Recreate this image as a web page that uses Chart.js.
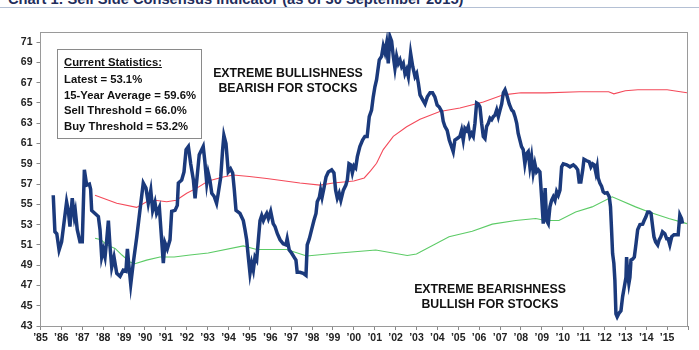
<!DOCTYPE html>
<html>
<head>
<meta charset="utf-8">
<script src="https://cdn.jsdelivr.net/npm/chart.js@4"></script>
<style>
  body { margin: 0; background: #fff; width: 699px; height: 350px; overflow: hidden; position: relative; font-family: "Liberation Sans", Arial, sans-serif; }
  #chart { position: absolute; left: 0; top: 0; }
  .title { position: absolute; left: 8px; top: -8px; font-size: 14.7px; line-height: 14.7px; font-weight: bold; color: #1f2d5c; white-space: nowrap; }
  .rule { position: absolute; left: 0; top: 7px; width: 699px; height: 1px; background: #b4c0d4; }
  .stats { position: absolute; left: 57px; top: 49px; width: 143px; height: 88px; border: 1px solid #8a8a8a; background: #fff; font-size: 11.3px; font-weight: bold; color: #111; }
  .stats div { position: absolute; left: 6px; white-space: nowrap; }
  .note { position: absolute; font-size: 12.3px; font-weight: bold; color: #111; text-align: center; line-height: 15px; white-space: nowrap; }
</style>
</head>
<body>
<div class="title">Chart 1: Sell Side Consensus Indicator (as of 30 September 2015)</div>
<div class="rule"></div>
<canvas id="chart" width="699" height="350"></canvas>
<div class="stats">
  <div style="top:6px;text-decoration:underline">Current Statistics:</div>
  <div style="top:23px">Latest = 53.1%</div>
  <div style="top:39px">15-Year Average = 59.6%</div>
  <div style="top:54px">Sell Threshold = 66.0%</div>
  <div style="top:70px">Buy Threshold = 53.2%</div>
</div>
<div class="note" style="left:208px;top:66px;width:160px">EXTREME BULLISHNESS<br>BEARISH FOR STOCKS</div>
<div class="note" style="left:410px;top:282px;width:160px">EXTREME BEARISHNESS<br>BULLISH FOR STOCKS</div>
<script>
// Sell side consensus indicator, [year, %]
const sellSide = [
  [1985.61,55.9],[1985.69,52.3],[1985.78,52.1],[1985.89,50.5],[1986.01,51.3],[1986.25,55.25],[1986.33,54.4],[1986.41,52.8],
  [1986.52,55.6],[1986.62,53.8],[1986.67,54.3],[1986.76,52.5],[1986.89,51.3],[1987.0,51.3],[1987.10,58.4],[1987.21,56.9],
  [1987.34,57.0],[1987.40,56.5],[1987.45,54.4],[1987.61,54.1],[1987.77,53.8],[1987.85,52.5],[1987.93,49.8],[1988.01,50.5],
  [1988.09,49.8],[1988.17,51.5],[1988.25,53.4],[1988.33,50.8],[1988.41,48.8],[1988.52,49.8],[1988.65,48.2],[1988.81,47.9],
  [1988.96,48.5],[1989.09,48.4],[1989.16,50.6],[1989.22,49.2],[1989.32,47.1],[1989.44,49.2],[1989.61,51.8],[1989.76,54.4],
  [1989.92,57.1],[1990.05,56.6],[1990.16,55.1],[1990.28,56.4],[1990.37,54.4],[1990.48,55.2],[1990.56,54.1],[1990.69,54.7],
  [1990.80,51.5],[1990.88,49.2],[1990.96,51.2],[1991.07,50.6],[1991.20,51.5],[1991.28,54.3],[1991.44,54.4],[1991.55,54.9],
  [1991.60,57.1],[1991.76,57.4],[1991.87,58.2],[1991.97,60.4],[1992.08,60.7],[1992.19,59.0],[1992.32,57.4],[1992.40,55.6],
  [1992.60,59.9],[1992.79,60.7],[1992.87,59.2],[1992.96,57.1],[1993.03,58.1],[1993.11,57.4],[1993.20,56.1],[1993.31,55.8],
  [1993.43,55.1],[1993.51,56.1],[1993.63,57.7],[1993.72,60.4],[1993.78,61.8],[1993.88,61.0],[1993.99,58.2],[1994.10,58.5],
  [1994.20,58.1],[1994.28,56.4],[1994.36,54.4],[1994.55,54.1],[1994.71,53.4],[1994.79,52.5],[1994.87,51.5],[1994.95,49.8],
  [1995.03,48.2],[1995.11,49.2],[1995.19,48.5],[1995.27,49.8],[1995.35,49.5],[1995.43,51.5],[1995.51,53.4],[1995.59,53.9],
  [1995.67,53.4],[1995.75,53.8],[1995.83,54.1],[1995.91,53.6],[1996.02,54.3],[1996.14,53.1],[1996.23,52.8],[1996.34,52.1],
  [1996.47,51.5],[1996.62,51.1],[1996.75,51.0],[1996.81,51.6],[1996.91,50.5],[1997.02,50.2],[1997.14,49.8],[1997.23,49.5],
  [1997.29,48.3],[1997.42,48.3],[1997.58,48.2],[1997.71,48.0],[1997.77,51.0],[1997.87,51.6],[1997.98,52.5],[1998.09,53.4],
  [1998.19,54.1],[1998.25,55.25],[1998.35,55.7],[1998.41,56.4],[1998.48,55.7],[1998.57,56.6],[1998.67,57.7],[1998.78,58.2],
  [1998.94,58.4],[1999.05,58.1],[1999.13,56.4],[1999.21,55.6],[1999.30,56.1],[1999.38,55.4],[1999.50,56.4],[1999.62,56.9],
  [1999.69,57.4],[1999.77,59.0],[1999.85,58.9],[1999.93,58.1],[2000.01,58.8],[2000.09,58.6],[2000.17,59.7],[2000.29,60.7],
  [2000.42,61.35],[2000.53,61.7],[2000.64,61.7],[2000.74,63.65],[2000.85,64.3],[2000.93,65.6],[2001.01,66.6],[2001.09,67.3],
  [2001.22,69.25],[2001.33,69.6],[2001.41,70.6],[2001.49,70.0],[2001.57,70.9],[2001.65,68.9],[2001.73,71.55],[2001.81,71.1],
  [2001.89,69.6],[2001.97,68.4],[2002.05,69.6],[2002.13,68.9],[2002.21,69.25],[2002.29,68.6],[2002.37,68.9],[2002.45,67.9],
  [2002.53,68.3],[2002.61,67.6],[2002.72,69.9],[2002.82,68.6],[2002.93,67.6],[2003.01,67.9],[2003.09,66.95],[2003.17,65.8],
  [2003.30,65.3],[2003.41,64.9],[2003.52,65.6],[2003.65,66.0],[2003.77,66.0],[2003.88,65.6],[2003.99,64.8],[2004.09,64.6],
  [2004.21,64.15],[2004.28,63.2],[2004.36,62.7],[2004.47,62.3],[2004.57,61.35],[2004.68,60.7],[2004.76,60.2],[2004.84,61.35],
  [2004.95,61.5],[2005.08,61.7],[2005.16,62.3],[2005.24,61.35],[2005.32,62.5],[2005.40,62.3],[2005.48,62.7],[2005.56,61.7],
  [2005.64,62.0],[2005.72,61.7],[2005.80,63.0],[2005.88,65.0],[2005.96,64.9],[2006.04,64.6],[2006.12,63.0],[2006.20,61.7],
  [2006.28,61.5],[2006.36,62.7],[2006.44,63.0],[2006.52,63.5],[2006.60,63.35],[2006.68,63.65],[2006.76,63.8],[2006.84,64.3],
  [2006.92,63.65],[2007.00,64.3],[2007.08,64.9],[2007.16,66.0],[2007.24,66.3],[2007.32,65.8],[2007.44,64.9],[2007.56,64.3],
  [2007.64,64.15],[2007.72,63.65],[2007.80,63.0],[2007.87,62.0],[2008.03,60.7],[2008.11,60.4],[2008.19,59.0],[2008.27,60.0],
  [2008.35,60.2],[2008.43,58.7],[2008.51,59.7],[2008.59,58.1],[2008.67,59.0],[2008.75,58.2],[2008.83,58.4],[2008.91,58.2],
  [2008.99,55.75],[2009.07,53.1],[2009.12,55.0],[2009.16,56.6],[2009.23,53.4],[2009.31,53.1],[2009.39,54.75],[2009.47,55.4],
  [2009.55,55.75],[2009.63,55.4],[2009.71,56.25],[2009.79,55.9],[2009.87,56.4],[2009.95,58.7],[2010.03,59.0],[2010.19,58.9],
  [2010.35,58.7],[2010.51,58.9],[2010.62,58.7],[2010.72,58.4],[2010.79,57.2],[2010.87,57.2],[2010.96,58.4],[2011.02,59.45],
  [2011.15,59.3],[2011.27,59.2],[2011.35,58.7],[2011.43,59.0],[2011.51,58.9],[2011.59,58.1],[2011.65,58.7],[2011.70,57.6],
  [2011.78,57.1],[2011.86,56.8],[2011.94,56.25],[2012.02,56.1],[2012.13,56.15],[2012.23,55.75],[2012.29,54.75],[2012.34,52.5],
  [2012.39,50.15],[2012.45,49.2],[2012.50,47.5],[2012.55,44.2],[2012.61,43.9],[2012.71,44.3],[2012.79,44.5],[2012.87,45.9],
  [2012.95,46.85],[2013.03,47.8],[2013.06,49.8],[2013.11,48.2],[2013.17,47.2],[2013.22,47.8],[2013.27,49.5],[2013.35,49.6],
  [2013.43,49.8],[2013.51,51.1],[2013.59,52.5],[2013.70,53.0],[2013.83,53.05],[2013.90,53.4],[2013.98,53.75],[2014.07,54.25],
  [2014.15,54.25],[2014.23,54.1],[2014.31,52.75],[2014.37,51.8],[2014.45,51.3],[2014.55,51.0],[2014.62,51.5],[2014.70,51.8],
  [2014.78,52.3],[2014.89,52.1],[2014.98,51.6],[2015.05,51.6],[2015.13,51.0],[2015.22,51.8],[2015.33,52.0],[2015.46,52.0],
  [2015.53,52.0],[2015.61,53.95],[2015.69,53.6],[2015.74,53.1]
];

// sell threshold line (red)
const sellThreshold = [
  [1987.61,55.9],[1988.65,55.1],[1989.6,54.7],[1990.08,55.25],[1990.48,55.4],[1991.04,55.25],[1991.5,55.4],[1992.0,56.1],
  [1992.48,56.6],[1993.03,57.3],[1993.75,57.7],[1994.23,57.9],[1995.0,57.75],[1995.83,57.55],[1997.42,57.1],[1998.38,56.9],
  [1999.02,57.1],[2000.0,57.3],[2000.5,57.6],[2000.8,58.3],[2001.09,59.05],[2001.41,60.4],[2001.89,61.7],[2002.53,62.65],
  [2003.17,63.4],[2004.12,64.15],[2005.08,64.5],[2006.2,65.1],[2007.16,65.8],[2008.0,66.0],[2009.2,66.0],[2010.8,66.1],
  [2012.2,66.1],[2012.45,65.9],[2013.0,66.2],[2013.6,66.3],[2015.0,66.3],[2015.95,66.0]
];

// buy threshold line (green)
const buyThreshold = [
  [1987.61,51.65],[1987.9,51.5],[1988.17,51.0],[1988.57,50.65],[1988.9,50.0],[1989.28,49.3],[1989.52,49.15],[1990.08,49.5],
  [1990.72,49.8],[1991.4,49.8],[1992.16,50.0],[1993.03,50.2],[1994.71,50.9],[1995.35,50.55],[1996.79,50.55],[1997.74,49.9],
  [1999.02,50.15],[2000.77,50.45],[2001.05,50.5],[2002.56,49.95],[2003.0,50.1],[2004.56,51.8],[2005.67,52.35],[2006.63,53.05],
  [2007.75,53.4],[2008.71,53.6],[2009.18,53.4],[2009.82,53.4],[2010.62,54.25],[2011.41,54.75],[2012.37,55.75],[2013.49,54.75],
  [2014.13,54.25],[2015.08,53.6],[2015.95,53.1]
];

const yTicks = [43, 45, 47, 49, 51, 53, 55, 57, 59, 61, 63, 65, 67, 69, 71];
const xYears = [];
for (let y = 1985; y <= 2016; y++) xYears.push(y);

function toXY(arr) {
  return arr.map(p => ({ x: p[0], y: p[1] }));
}

// grey box round the plot area
const plotBox = {
  id: 'plotBox',
  beforeDatasetsDraw(chart) {
    const a = chart.chartArea, ctx = chart.ctx;
    ctx.save();
    ctx.strokeStyle = '#9a9a9a';
    ctx.lineWidth = 1;
    ctx.strokeRect(a.left, a.top + 0.5, a.right - a.left - 0.5, a.bottom - a.top);
    ctx.restore();
  }
};

const tickFont = { family: '"Liberation Sans", Arial, sans-serif', size: 10.5, weight: 'bold' };

new Chart(document.getElementById('chart'), {
  type: 'line',
  data: {
    datasets: [
      { data: toXY(sellSide), borderColor: '#1b3a7c', borderWidth: 3.5, pointRadius: 0, tension: 0, order: 0 },
      { data: toXY(sellThreshold), borderColor: '#f44a5a', borderWidth: 1.1, pointRadius: 0, tension: 0, order: 1 },
      { data: toXY(buyThreshold), borderColor: '#5ccb66', borderWidth: 1.1, pointRadius: 0, tension: 0, order: 2 }
    ]
  },
  options: {
    responsive: false,
    animation: false,
    devicePixelRatio: 1,
    layout: { padding: { top: 32, right: 11, left: 0, bottom: 0 } },
    plugins: { legend: { display: false }, tooltip: { enabled: false } },
    scales: {
      x: {
        type: 'linear',
        min: 1985,
        max: 2016,
        afterBuildTicks: s => { s.ticks = xYears.map(v => ({ value: v })); },
        afterFit: s => { s.height = 24; },
        ticks: {
          autoSkip: false, maxRotation: 0, padding: 2, color: '#222', font: tickFont,
          callback: v => v === 2016 ? '' : '\u2019' + String(v).slice(2)
        },
        grid: { drawOnChartArea: false, tickLength: 4, color: '#888' },
        border: { color: '#888' }
      },
      y: {
        min: 43,
        max: 72,
        afterBuildTicks: s => { s.ticks = yTicks.map(v => ({ value: v })); },
        afterFit: s => { s.width = 40.5; },
        ticks: { padding: 4, color: '#222', font: tickFont },
        grid: { drawOnChartArea: false, tickLength: 4, color: '#888' },
        border: { color: '#888' }
      }
    }
  },
  plugins: [plotBox]
});
</script>
</body>
</html>
